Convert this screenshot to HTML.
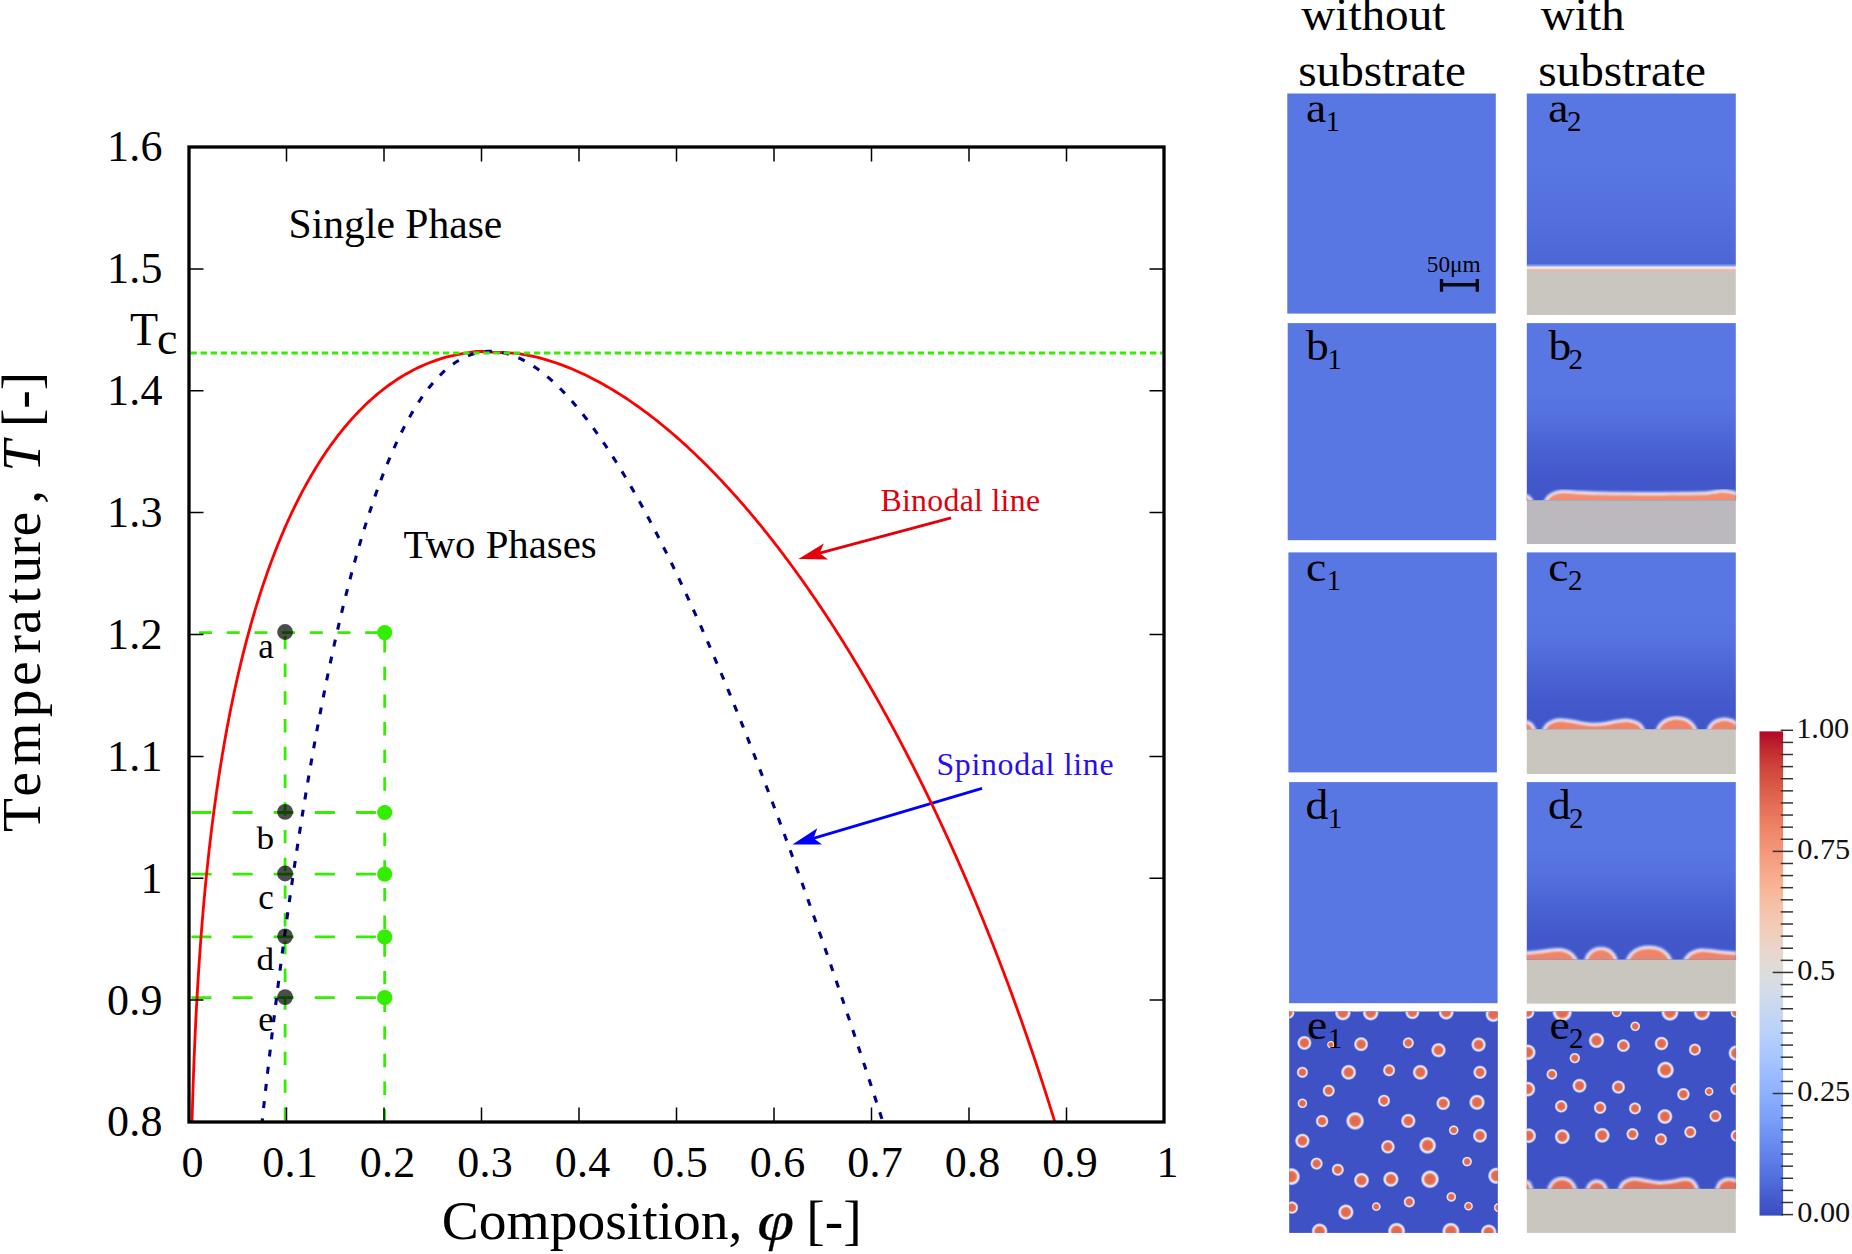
<!DOCTYPE html>
<html lang="en"><head><meta charset="utf-8"><title>Phase diagram</title>
<style>html,body{margin:0;padding:0;background:#fff}body{width:1852px;height:1254px;overflow:hidden}svg{display:block}</style>
</head><body>
<svg width="1852" height="1254" viewBox="0 0 1852 1254" font-family='"Liberation Serif", "DejaVu Serif", serif'>
<rect x="0" y="0" width="1852" height="1254" fill="#ffffff"/>
<defs><linearGradient id="cbar" x1="0" y1="0" x2="0" y2="1"><stop offset="0.0000" stop-color="#b40426"/><stop offset="0.0250" stop-color="#bd1f2d"/><stop offset="0.0500" stop-color="#c53334"/><stop offset="0.0750" stop-color="#cf453c"/><stop offset="0.1000" stop-color="#d65244"/><stop offset="0.1250" stop-color="#dd5f4b"/><stop offset="0.1500" stop-color="#e36c55"/><stop offset="0.1750" stop-color="#e9785d"/><stop offset="0.2000" stop-color="#ee8468"/><stop offset="0.2250" stop-color="#f18f71"/><stop offset="0.2500" stop-color="#f4987a"/><stop offset="0.2750" stop-color="#f6a385"/><stop offset="0.3000" stop-color="#f7ac8e"/><stop offset="0.3250" stop-color="#f7b599"/><stop offset="0.3500" stop-color="#f6bda2"/><stop offset="0.3750" stop-color="#f5c4ac"/><stop offset="0.4000" stop-color="#f2cbb7"/><stop offset="0.4250" stop-color="#eed0c0"/><stop offset="0.4500" stop-color="#e9d5cb"/><stop offset="0.4750" stop-color="#e3d9d3"/><stop offset="0.5000" stop-color="#dddcdc"/><stop offset="0.5250" stop-color="#d6dce4"/><stop offset="0.5500" stop-color="#cfdaea"/><stop offset="0.5750" stop-color="#c7d7f0"/><stop offset="0.6000" stop-color="#c0d4f5"/><stop offset="0.6250" stop-color="#b9d0f9"/><stop offset="0.6500" stop-color="#afcafc"/><stop offset="0.6750" stop-color="#a7c5fe"/><stop offset="0.7000" stop-color="#9ebeff"/><stop offset="0.7250" stop-color="#96b7ff"/><stop offset="0.7500" stop-color="#8db0fe"/><stop offset="0.7750" stop-color="#84a7fc"/><stop offset="0.8000" stop-color="#7b9ff9"/><stop offset="0.8250" stop-color="#7295f4"/><stop offset="0.8500" stop-color="#6a8bef"/><stop offset="0.8750" stop-color="#6282ea"/><stop offset="0.9000" stop-color="#5977e3"/><stop offset="0.9250" stop-color="#516ddb"/><stop offset="0.9500" stop-color="#4961d2"/><stop offset="0.9750" stop-color="#4257c9"/><stop offset="1.0000" stop-color="#3b4cc0"/></linearGradient><radialGradient id="drop" cx="0.5" cy="0.5" r="0.5"><stop offset="0" stop-color="#e16751"/><stop offset="0.44" stop-color="#e36c55"/><stop offset="0.58" stop-color="#f39577"/><stop offset="0.69" stop-color="#f7e4d8"/><stop offset="0.77" stop-color="#dde2f4"/><stop offset="0.86" stop-color="#94b6ff"/><stop offset="0.95" stop-color="#4c66d6"/><stop offset="1" stop-color="#3e51c5"/></radialGradient><linearGradient id="gA" x1="0" y1="0" x2="0" y2="1"><stop offset="0" stop-color="#5977e3"/><stop offset="0.4" stop-color="#5977e3"/><stop offset="0.7" stop-color="#5470de"/><stop offset="1" stop-color="#4c66d6"/></linearGradient><linearGradient id="gA2" x1="0" y1="0" x2="0" y2="1"><stop offset="0" stop-color="#4c66d6"/><stop offset="0.22" stop-color="#90b2fe"/><stop offset="0.42" stop-color="#ecebf2"/><stop offset="0.58" stop-color="#f4e4dc"/><stop offset="0.72" stop-color="#f6bba4"/><stop offset="1" stop-color="#f5b39b"/></linearGradient><linearGradient id="gB" x1="0" y1="0" x2="0" y2="1"><stop offset="0" stop-color="#5977e3"/><stop offset="0.36" stop-color="#5977e3"/><stop offset="0.5" stop-color="#5572df"/><stop offset="0.65" stop-color="#4c66d6"/><stop offset="0.8" stop-color="#455cce"/><stop offset="0.9" stop-color="#4257c9"/><stop offset="1" stop-color="#4055c8"/></linearGradient><linearGradient id="film" x1="0" y1="0" x2="0" y2="1"><stop offset="0" stop-color="#f7ac8e"/><stop offset="0.5" stop-color="#f39577"/><stop offset="1" stop-color="#ee8468"/></linearGradient><filter id="soft" x="-5%" y="-20%" width="110%" height="140%"><feGaussianBlur stdDeviation="1.1"/></filter></defs>
<path d="M951.1,517.9 L817.72,553.71" stroke="#e2000a" stroke-width="2.8" fill="none"/>
<path d="M798.40,558.90 L823.75,543.40 L819.65,553.20 L828.10,559.62 Z" fill="#e2000a"/>
<text x="880.5" y="510.8" font-size="31.8" fill="#e0000a" textLength="159.5" lengthAdjust="spacing">Binodal line</text>
<path d="M982,788.3 L811.58,838.82" stroke="#0000ff" stroke-width="2.8" fill="none"/>
<path d="M792.40,844.50 L817.34,828.35 L813.49,838.25 L822.11,844.45 Z" fill="#0000ff"/>
<text x="936.5" y="775.4" font-size="31.8" fill="#2a0cf0" textLength="177" lengthAdjust="spacing">Spinodal line</text>
<g stroke="#33ee00" stroke-width="2.8" fill="none">
<path d="M199,632.6 H384.7" stroke-dasharray="13 14.7"/>
<path d="M191.5,812.5 H384.7" stroke-dasharray="20 21.1"/>
<path d="M191.5,874.1 H384.7" stroke-dasharray="20 21.1"/>
<path d="M191.5,936.9 H384.7" stroke-dasharray="20 21.1"/>
<path d="M191.5,997.7 H384.7" stroke-dasharray="20 21.1"/>
<path d="M285.1,632.6 V1120.5" stroke-dasharray="13.4 14.32" stroke-dashoffset="-3.3"/>
<path d="M384.7,632.6 V1120.5" stroke-dasharray="13.4 14.25" stroke-dashoffset="-6.5"/>
</g>
<path d="M192.02,1122.00 L192.07,1120.07 L192.12,1118.14 L192.17,1116.21 L192.23,1114.27 L192.28,1112.34 L192.34,1110.41 L192.40,1108.48 L192.45,1106.55 L192.51,1104.62 L192.57,1102.69 L192.63,1100.76 L192.69,1098.82 L192.75,1096.89 L192.81,1094.96 L192.87,1093.03 L192.94,1091.10 L193.00,1089.17 L193.06,1087.24 L193.13,1085.31 L193.19,1083.37 L193.26,1081.44 L193.33,1079.51 L193.40,1077.58 L193.47,1075.65 L193.54,1073.72 L193.61,1071.79 L193.68,1069.86 L193.75,1067.92 L193.83,1065.99 L193.90,1064.06 L193.98,1062.13 L194.05,1060.20 L194.13,1058.27 L194.21,1056.34 L194.29,1054.41 L194.37,1052.47 L194.45,1050.54 L194.53,1048.61 L194.61,1046.68 L194.69,1044.75 L194.78,1042.82 L194.86,1040.89 L194.95,1038.95 L195.04,1037.02 L195.12,1035.09 L195.21,1033.16 L195.30,1031.23 L195.39,1029.30 L195.49,1027.37 L195.58,1025.44 L195.67,1023.50 L195.77,1021.57 L195.86,1019.64 L195.96,1017.71 L196.06,1015.78 L196.16,1013.85 L196.26,1011.92 L196.36,1009.99 L196.46,1008.05 L196.56,1006.12 L196.67,1004.19 L196.77,1002.26 L196.88,1000.33 L196.99,998.40 L197.10,996.47 L197.21,994.54 L197.32,992.60 L197.43,990.67 L197.54,988.74 L197.66,986.81 L197.77,984.88 L197.89,982.95 L198.01,981.02 L198.13,979.09 L198.25,977.15 L198.37,975.22 L198.49,973.29 L198.61,971.36 L198.74,969.43 L198.86,967.50 L198.99,965.57 L199.12,963.63 L199.25,961.70 L199.38,959.77 L199.51,957.84 L199.65,955.91 L199.78,953.98 L199.92,952.05 L200.05,950.12 L200.19,948.18 L200.33,946.25 L200.47,944.32 L200.62,942.39 L200.76,940.46 L200.91,938.53 L201.05,936.60 L201.20,934.67 L201.35,932.73 L201.50,930.80 L201.65,928.87 L201.81,926.94 L201.96,925.01 L202.12,923.08 L202.27,921.15 L202.43,919.22 L202.59,917.28 L202.76,915.35 L202.92,913.42 L203.09,911.49 L203.25,909.56 L203.42,907.63 L203.59,905.70 L203.76,903.76 L203.93,901.83 L204.11,899.90 L204.28,897.97 L204.46,896.04 L204.64,894.11 L204.82,892.18 L205.00,890.25 L205.18,888.31 L205.37,886.38 L205.55,884.45 L205.74,882.52 L205.93,880.59 L206.12,878.66 L206.31,876.73 L206.51,874.80 L206.71,872.86 L206.90,870.93 L207.10,869.00 L207.30,867.07 L207.51,865.14 L207.71,863.21 L207.92,861.28 L208.13,859.35 L208.34,857.41 L208.55,855.48 L208.76,853.55 L208.98,851.62 L209.19,849.69 L209.41,847.76 L209.63,845.83 L209.86,843.90 L210.08,841.96 L210.31,840.03 L210.53,838.10 L210.76,836.17 L211.00,834.24 L211.23,832.31 L211.46,830.38 L211.70,828.44 L211.94,826.51 L212.18,824.58 L212.43,822.65 L212.67,820.72 L212.92,818.79 L213.17,816.86 L213.42,814.93 L213.67,812.99 L213.93,811.06 L214.19,809.13 L214.45,807.20 L214.71,805.27 L214.97,803.34 L215.24,801.41 L215.50,799.48 L215.77,797.54 L216.05,795.61 L216.32,793.68 L216.60,791.75 L216.88,789.82 L217.16,787.89 L217.44,785.96 L217.73,784.03 L218.01,782.09 L218.30,780.16 L218.60,778.23 L218.89,776.30 L219.19,774.37 L219.49,772.44 L219.79,770.51 L220.09,768.58 L220.40,766.64 L220.71,764.71 L221.02,762.78 L221.33,760.85 L221.65,758.92 L221.97,756.99 L222.29,755.06 L222.61,753.12 L222.94,751.19 L223.26,749.26 L223.60,747.33 L223.93,745.40 L224.27,743.47 L224.60,741.54 L224.95,739.61 L225.29,737.67 L225.64,735.74 L225.99,733.81 L226.34,731.88 L226.69,729.95 L227.05,728.02 L227.41,726.09 L227.77,724.16 L228.14,722.22 L228.51,720.29 L228.88,718.36 L229.26,716.43 L229.63,714.50 L230.01,712.57 L230.40,710.64 L230.78,708.71 L231.17,706.77 L231.57,704.84 L231.96,702.91 L232.36,700.98 L232.76,699.05 L233.17,697.12 L233.57,695.19 L233.98,693.26 L234.40,691.32 L234.82,689.39 L235.24,687.46 L235.66,685.53 L236.09,683.60 L236.52,681.67 L236.95,679.74 L237.39,677.80 L237.83,675.87 L238.27,673.94 L238.72,672.01 L239.17,670.08 L239.63,668.15 L240.09,666.22 L240.55,664.29 L241.01,662.35 L241.48,660.42 L241.95,658.49 L242.43,656.56 L242.91,654.63 L243.40,652.70 L243.88,650.77 L244.38,648.84 L244.87,646.90 L245.37,644.97 L245.87,643.04 L246.38,641.11 L246.89,639.18 L247.41,637.25 L247.93,635.32 L248.45,633.39 L248.98,631.45 L249.51,629.52 L250.05,627.59 L250.59,625.66 L251.13,623.73 L251.68,621.80 L252.24,619.87 L252.80,617.93 L253.36,616.00 L253.93,614.07 L254.50,612.14 L255.08,610.21 L255.66,608.28 L256.25,606.35 L256.84,604.42 L257.43,602.48 L258.04,600.55 L258.64,598.62 L259.25,596.69 L259.87,594.76 L260.49,592.83 L261.12,590.90 L261.75,588.97 L262.39,587.03 L263.03,585.10 L263.68,583.17 L264.33,581.24 L264.99,579.31 L265.66,577.38 L266.33,575.45 L267.01,573.52 L267.69,571.58 L268.38,569.65 L269.07,567.72 L269.77,565.79 L270.48,563.86 L271.19,561.93 L271.91,560.00 L272.64,558.07 L273.37,556.13 L274.11,554.20 L274.85,552.27 L275.61,550.34 L276.37,548.41 L277.13,546.48 L277.91,544.55 L278.69,542.61 L279.48,540.68 L280.27,538.75 L281.07,536.82 L281.88,534.89 L282.70,532.96 L283.53,531.03 L284.36,529.10 L285.20,527.16 L286.05,525.23 L286.91,523.30 L287.78,521.37 L288.65,519.44 L289.54,517.51 L290.43,515.58 L291.33,513.65 L292.24,511.71 L293.17,509.78 L294.10,507.85 L295.04,505.92 L295.99,503.99 L296.94,502.06 L297.91,500.13 L298.90,498.20 L299.89,496.26 L300.89,494.33 L301.90,492.40 L302.92,490.47 L303.96,488.54 L305.01,486.61 L306.07,484.68 L307.14,482.75 L308.22,480.81 L309.32,478.88 L310.43,476.95 L311.55,475.02 L312.68,473.09 L313.83,471.16 L315.00,469.23 L316.18,467.29 L317.37,465.36 L318.58,463.43 L319.80,461.50 L321.04,459.57 L322.30,457.64 L323.57,455.71 L324.87,453.78 L326.17,451.84 L327.50,449.91 L328.85,447.98 L330.21,446.05 L331.60,444.12 L333.00,442.19 L334.43,440.26 L335.88,438.33 L337.35,436.39 L338.84,434.46 L340.36,432.53 L341.91,430.60 L343.48,428.67 L345.07,426.74 L346.70,424.81 L348.35,422.88 L350.03,420.94 L351.74,419.01 L353.49,417.08 L355.27,415.15 L357.09,413.22 L358.94,411.29 L360.83,409.36 L362.76,407.43 L364.74,405.49 L366.76,403.56 L368.83,401.63 L370.95,399.70 L373.12,397.77 L375.34,395.84 L377.63,393.91 L379.98,391.97 L382.41,390.04 L384.90,388.11 L387.48,386.18 L390.14,384.25 L392.89,382.32 L395.75,380.39 L398.72,378.46 L401.82,376.52 L405.05,374.59 L408.45,372.66 L412.02,370.73 L415.80,368.80 L419.82,366.87 L424.13,364.94 L428.79,363.01 L433.89,361.07 L439.57,359.14 L446.06,357.21 L453.81,355.28 L463.94,353.35 L476.30,351.42 L490.29,351.30 L476.30,351.42 L517.44,353.35 L528.31,355.28 L536.80,357.21 L544.03,359.14 L550.45,361.07 L556.29,363.01 L561.69,364.94 L566.74,366.87 L571.50,368.80 L576.02,370.73 L580.33,372.66 L584.46,374.59 L588.44,376.52 L592.27,378.46 L595.98,380.39 L599.58,382.32 L603.07,384.25 L606.47,386.18 L609.78,388.11 L613.01,390.04 L616.17,391.97 L619.26,393.91 L622.29,395.84 L625.25,397.77 L628.16,399.70 L631.01,401.63 L633.82,403.56 L636.57,405.49 L639.28,407.43 L641.95,409.36 L644.58,411.29 L647.16,413.22 L649.71,415.15 L652.23,417.08 L654.71,419.01 L657.16,420.94 L659.57,422.88 L661.96,424.81 L664.32,426.74 L666.64,428.67 L668.95,430.60 L671.22,432.53 L673.47,434.46 L675.70,436.39 L677.90,438.33 L680.08,440.26 L682.24,442.19 L684.38,444.12 L686.49,446.05 L688.59,447.98 L690.66,449.91 L692.72,451.84 L694.76,453.78 L696.78,455.71 L698.78,457.64 L700.77,459.57 L702.74,461.50 L704.69,463.43 L706.63,465.36 L708.55,467.29 L710.45,469.23 L712.35,471.16 L714.22,473.09 L716.09,475.02 L717.93,476.95 L719.77,478.88 L721.59,480.81 L723.40,482.75 L725.20,484.68 L726.98,486.61 L728.75,488.54 L730.51,490.47 L732.26,492.40 L734.00,494.33 L735.73,496.26 L737.44,498.20 L739.14,500.13 L740.84,502.06 L742.52,503.99 L744.19,505.92 L745.85,507.85 L747.51,509.78 L749.15,511.71 L750.78,513.65 L752.40,515.58 L754.02,517.51 L755.62,519.44 L757.22,521.37 L758.81,523.30 L760.38,525.23 L761.95,527.16 L763.51,529.10 L765.07,531.03 L766.61,532.96 L768.15,534.89 L769.68,536.82 L771.20,538.75 L772.71,540.68 L774.21,542.61 L775.71,544.55 L777.20,546.48 L778.68,548.41 L780.16,550.34 L781.63,552.27 L783.09,554.20 L784.54,556.13 L785.99,558.07 L787.43,560.00 L788.86,561.93 L790.29,563.86 L791.71,565.79 L793.12,567.72 L794.53,569.65 L795.93,571.58 L797.33,573.52 L798.72,575.45 L800.10,577.38 L801.47,579.31 L802.84,581.24 L804.21,583.17 L805.57,585.10 L806.92,587.03 L808.27,588.97 L809.61,590.90 L810.95,592.83 L812.28,594.76 L813.60,596.69 L814.92,598.62 L816.23,600.55 L817.54,602.48 L818.84,604.42 L820.14,606.35 L821.44,608.28 L822.72,610.21 L824.01,612.14 L825.28,614.07 L826.56,616.00 L827.82,617.93 L829.09,619.87 L830.34,621.80 L831.60,623.73 L832.85,625.66 L834.09,627.59 L835.33,629.52 L836.56,631.45 L837.79,633.39 L839.02,635.32 L840.24,637.25 L841.45,639.18 L842.67,641.11 L843.87,643.04 L845.08,644.97 L846.27,646.90 L847.47,648.84 L848.66,650.77 L849.85,652.70 L851.03,654.63 L852.20,656.56 L853.38,658.49 L854.55,660.42 L855.71,662.35 L856.87,664.29 L858.03,666.22 L859.18,668.15 L860.33,670.08 L861.48,672.01 L862.62,673.94 L863.76,675.87 L864.89,677.80 L866.02,679.74 L867.15,681.67 L868.27,683.60 L869.39,685.53 L870.50,687.46 L871.61,689.39 L872.72,691.32 L873.82,693.26 L874.93,695.19 L876.02,697.12 L877.12,699.05 L878.21,700.98 L879.29,702.91 L880.37,704.84 L881.45,706.77 L882.53,708.71 L883.60,710.64 L884.67,712.57 L885.74,714.50 L886.80,716.43 L887.86,718.36 L888.91,720.29 L889.97,722.22 L891.01,724.16 L892.06,726.09 L893.10,728.02 L894.14,729.95 L895.18,731.88 L896.21,733.81 L897.24,735.74 L898.27,737.67 L899.29,739.61 L900.31,741.54 L901.33,743.47 L902.34,745.40 L903.36,747.33 L904.36,749.26 L905.37,751.19 L906.37,753.12 L907.37,755.06 L908.37,756.99 L909.36,758.92 L910.35,760.85 L911.34,762.78 L912.32,764.71 L913.31,766.64 L914.28,768.58 L915.26,770.51 L916.23,772.44 L917.20,774.37 L918.17,776.30 L919.14,778.23 L920.10,780.16 L921.06,782.09 L922.01,784.03 L922.97,785.96 L923.92,787.89 L924.87,789.82 L925.81,791.75 L926.75,793.68 L927.69,795.61 L928.63,797.54 L929.57,799.48 L930.50,801.41 L931.43,803.34 L932.35,805.27 L933.28,807.20 L934.20,809.13 L935.12,811.06 L936.03,812.99 L936.95,814.93 L937.86,816.86 L938.77,818.79 L939.67,820.72 L940.58,822.65 L941.48,824.58 L942.38,826.51 L943.27,828.44 L944.17,830.38 L945.06,832.31 L945.95,834.24 L946.83,836.17 L947.72,838.10 L948.60,840.03 L949.48,841.96 L950.35,843.90 L951.23,845.83 L952.10,847.76 L952.97,849.69 L953.84,851.62 L954.70,853.55 L955.56,855.48 L956.42,857.41 L957.28,859.35 L958.14,861.28 L958.99,863.21 L959.84,865.14 L960.69,867.07 L961.53,869.00 L962.38,870.93 L963.22,872.86 L964.06,874.80 L964.90,876.73 L965.73,878.66 L966.56,880.59 L967.39,882.52 L968.22,884.45 L969.05,886.38 L969.87,888.31 L970.69,890.25 L971.51,892.18 L972.33,894.11 L973.14,896.04 L973.95,897.97 L974.77,899.90 L975.57,901.83 L976.38,903.76 L977.18,905.70 L977.98,907.63 L978.78,909.56 L979.58,911.49 L980.38,913.42 L981.17,915.35 L981.96,917.28 L982.75,919.22 L983.54,921.15 L984.32,923.08 L985.10,925.01 L985.89,926.94 L986.66,928.87 L987.44,930.80 L988.21,932.73 L988.99,934.67 L989.76,936.60 L990.53,938.53 L991.29,940.46 L992.06,942.39 L992.82,944.32 L993.58,946.25 L994.34,948.18 L995.09,950.12 L995.85,952.05 L996.60,953.98 L997.35,955.91 L998.10,957.84 L998.84,959.77 L999.59,961.70 L1000.33,963.63 L1001.07,965.57 L1001.81,967.50 L1002.54,969.43 L1003.28,971.36 L1004.01,973.29 L1004.74,975.22 L1005.47,977.15 L1006.20,979.09 L1006.92,981.02 L1007.64,982.95 L1008.36,984.88 L1009.08,986.81 L1009.80,988.74 L1010.51,990.67 L1011.23,992.60 L1011.94,994.54 L1012.65,996.47 L1013.35,998.40 L1014.06,1000.33 L1014.76,1002.26 L1015.47,1004.19 L1016.17,1006.12 L1016.86,1008.05 L1017.56,1009.99 L1018.25,1011.92 L1018.95,1013.85 L1019.64,1015.78 L1020.33,1017.71 L1021.01,1019.64 L1021.70,1021.57 L1022.38,1023.50 L1023.06,1025.44 L1023.74,1027.37 L1024.42,1029.30 L1025.09,1031.23 L1025.77,1033.16 L1026.44,1035.09 L1027.11,1037.02 L1027.78,1038.95 L1028.45,1040.89 L1029.11,1042.82 L1029.77,1044.75 L1030.44,1046.68 L1031.09,1048.61 L1031.75,1050.54 L1032.41,1052.47 L1033.06,1054.41 L1033.71,1056.34 L1034.37,1058.27 L1035.01,1060.20 L1035.66,1062.13 L1036.31,1064.06 L1036.95,1065.99 L1037.59,1067.92 L1038.23,1069.86 L1038.87,1071.79 L1039.51,1073.72 L1040.14,1075.65 L1040.77,1077.58 L1041.41,1079.51 L1042.03,1081.44 L1042.66,1083.37 L1043.29,1085.31 L1043.91,1087.24 L1044.54,1089.17 L1045.16,1091.10 L1045.77,1093.03 L1046.39,1094.96 L1047.01,1096.89 L1047.62,1098.82 L1048.23,1100.76 L1048.84,1102.69 L1049.45,1104.62 L1050.06,1106.55 L1050.67,1108.48 L1051.27,1110.41 L1051.87,1112.34 L1052.47,1114.27 L1053.07,1116.21 L1053.67,1118.14 L1054.26,1120.07 L1054.85,1122.00" fill="none" stroke="#ff0000" stroke-width="2.8" stroke-linejoin="round"/>
<path d="M262.03,1122.31 L263.27,1110.94 L264.52,1099.71 L265.76,1088.61 L267.00,1077.64 L268.25,1066.80 L269.49,1056.09 L270.74,1045.51 L271.98,1035.05 L273.23,1024.71 L274.47,1014.50 L275.71,1004.40 L276.96,994.43 L278.20,984.57 L279.45,974.84 L280.69,965.21 L281.94,955.70 L283.18,946.31 L284.42,937.02 L285.67,927.85 L286.91,918.78 L288.16,909.83 L289.40,900.98 L290.65,892.23 L291.89,883.60 L293.13,875.06 L294.38,866.63 L295.62,858.29 L296.87,850.06 L298.11,841.93 L299.35,833.90 L300.60,825.96 L301.84,818.12 L303.09,810.37 L304.33,802.72 L305.58,795.16 L306.82,787.70 L308.06,780.32 L309.31,773.03 L310.55,765.84 L311.80,758.73 L313.04,751.71 L314.29,744.78 L315.53,737.93 L316.77,731.17 L318.02,724.49 L319.26,717.90 L320.51,711.38 L321.75,704.95 L323.00,698.60 L324.24,692.33 L325.48,686.14 L326.73,680.03 L327.97,673.99 L329.22,668.04 L330.46,662.15 L331.71,656.35 L332.95,650.62 L334.19,644.96 L335.44,639.37 L336.68,633.86 L337.93,628.42 L339.17,623.05 L340.42,617.75 L341.66,612.53 L342.90,607.37 L344.15,602.28 L345.39,597.25 L346.64,592.30 L347.88,587.41 L349.12,582.59 L350.37,577.83 L351.61,573.14 L352.86,568.51 L354.10,563.95 L355.35,559.44 L356.59,555.01 L357.83,550.63 L359.08,546.31 L360.32,542.06 L361.57,537.86 L362.81,533.73 L364.06,529.65 L365.30,525.64 L366.54,521.68 L367.79,517.78 L369.03,513.93 L370.28,510.15 L371.52,506.42 L372.77,502.74 L374.01,499.12 L375.25,495.56 L376.50,492.05 L377.74,488.59 L378.99,485.18 L380.23,481.83 L381.48,478.53 L382.72,475.29 L383.96,472.09 L385.21,468.95 L386.45,465.85 L387.70,462.81 L388.94,459.82 L390.19,456.87 L391.43,453.98 L392.67,451.13 L393.92,448.33 L395.16,445.58 L396.41,442.88 L397.65,440.22 L398.89,437.61 L400.14,435.05 L401.38,432.53 L402.63,430.06 L403.87,427.63 L405.12,425.25 L406.36,422.91 L407.60,420.61 L408.85,418.36 L410.09,416.15 L411.34,413.99 L412.58,411.87 L413.83,409.79 L415.07,407.75 L416.31,405.75 L417.56,403.80 L418.80,401.88 L420.05,400.01 L421.29,398.18 L422.54,396.38 L423.78,394.63 L425.02,392.92 L426.27,391.24 L427.51,389.60 L428.76,388.01 L430.00,386.45 L431.25,384.92 L432.49,383.44 L433.73,381.99 L434.98,380.58 L436.22,379.21 L437.47,377.87 L438.71,376.57 L439.96,375.30 L441.20,374.07 L442.44,372.88 L443.69,371.72 L444.93,370.60 L446.18,369.51 L447.42,368.45 L448.66,367.43 L449.91,366.44 L451.15,365.49 L452.40,364.57 L453.64,363.68 L454.89,362.83 L456.13,362.00 L457.37,361.21 L458.62,360.46 L459.86,359.73 L461.11,359.04 L462.35,358.37 L463.60,357.74 L464.84,357.14 L466.08,356.57 L467.33,356.03 L468.57,355.52 L469.82,355.04 L471.06,354.59 L472.31,354.17 L473.55,353.78 L474.79,353.42 L476.04,353.09 L477.28,352.79 L478.53,352.51 L479.77,352.27 L481.02,352.05 L482.26,351.86 L483.50,351.70 L484.75,351.56 L485.99,351.46 L487.24,351.38 L488.48,351.32 L489.72,351.30 L490.97,351.30 L492.21,351.33 L493.46,351.38 L494.70,351.46 L495.95,351.57 L497.19,351.70 L498.43,351.86 L499.68,352.04 L500.92,352.25 L502.17,352.48 L503.41,352.74 L504.66,353.02 L505.90,353.33 L507.14,353.67 L508.39,354.02 L509.63,354.40 L510.88,354.81 L512.12,355.24 L513.37,355.69 L514.61,356.16 L515.85,356.66 L517.10,357.19 L518.34,357.73 L519.59,358.30 L520.83,358.89 L522.08,359.51 L523.32,360.14 L524.56,360.80 L525.81,361.48 L527.05,362.18 L528.30,362.91 L529.54,363.65 L530.79,364.42 L532.03,365.21 L533.27,366.02 L534.52,366.86 L535.76,367.71 L537.01,368.58 L538.25,369.48 L539.49,370.39 L540.74,371.33 L541.98,372.29 L543.23,373.26 L544.47,374.26 L545.72,375.28 L546.96,376.31 L548.20,377.37 L549.45,378.45 L550.69,379.54 L551.94,380.66 L553.18,381.79 L554.43,382.95 L555.67,384.12 L556.91,385.31 L558.16,386.52 L559.40,387.75 L560.65,389.00 L561.89,390.27 L563.14,391.55 L564.38,392.85 L565.62,394.18 L566.87,395.52 L568.11,396.87 L569.36,398.25 L570.60,399.64 L571.85,401.05 L573.09,402.48 L574.33,403.93 L575.58,405.39 L576.82,406.87 L578.07,408.37 L579.31,409.88 L580.56,411.41 L581.80,412.96 L583.04,414.52 L584.29,416.11 L585.53,417.70 L586.78,419.32 L588.02,420.95 L589.26,422.59 L590.51,424.26 L591.75,425.94 L593.00,427.63 L594.24,429.34 L595.49,431.07 L596.73,432.81 L597.97,434.57 L599.22,436.34 L600.46,438.13 L601.71,439.94 L602.95,441.76 L604.20,443.59 L605.44,445.44 L606.68,447.30 L607.93,449.18 L609.17,451.08 L610.42,452.99 L611.66,454.91 L612.91,456.85 L614.15,458.80 L615.39,460.77 L616.64,462.75 L617.88,464.75 L619.13,466.76 L620.37,468.78 L621.62,470.82 L622.86,472.87 L624.10,474.94 L625.35,477.01 L626.59,479.11 L627.84,481.22 L629.08,483.34 L630.33,485.47 L631.57,487.62 L632.81,489.78 L634.06,491.95 L635.30,494.14 L636.55,496.34 L637.79,498.55 L639.03,500.78 L640.28,503.02 L641.52,505.27 L642.77,507.53 L644.01,509.81 L645.26,512.10 L646.50,514.41 L647.74,516.72 L648.99,519.05 L650.23,521.39 L651.48,523.74 L652.72,526.11 L653.97,528.48 L655.21,530.87 L656.45,533.27 L657.70,535.68 L658.94,538.11 L660.19,540.55 L661.43,542.99 L662.68,545.46 L663.92,547.93 L665.16,550.41 L666.41,552.91 L667.65,555.41 L668.90,557.93 L670.14,560.46 L671.39,563.00 L672.63,565.55 L673.87,568.12 L675.12,570.69 L676.36,573.28 L677.61,575.87 L678.85,578.48 L680.09,581.10 L681.34,583.73 L682.58,586.37 L683.83,589.02 L685.07,591.68 L686.32,594.35 L687.56,597.03 L688.80,599.73 L690.05,602.43 L691.29,605.15 L692.54,607.87 L693.78,610.61 L695.03,613.35 L696.27,616.11 L697.51,618.87 L698.76,621.65 L700.00,624.43 L701.25,627.23 L702.49,630.03 L703.74,632.85 L704.98,635.68 L706.22,638.51 L707.47,641.36 L708.71,644.21 L709.96,647.08 L711.20,649.95 L712.45,652.83 L713.69,655.73 L714.93,658.63 L716.18,661.54 L717.42,664.47 L718.67,667.40 L719.91,670.34 L721.16,673.29 L722.40,676.25 L723.64,679.21 L724.89,682.19 L726.13,685.18 L727.38,688.17 L728.62,691.18 L729.86,694.19 L731.11,697.21 L732.35,700.25 L733.60,703.29 L734.84,706.33 L736.09,709.39 L737.33,712.46 L738.57,715.53 L739.82,718.62 L741.06,721.71 L742.31,724.81 L743.55,727.92 L744.80,731.04 L746.04,734.16 L747.28,737.30 L748.53,740.44 L749.77,743.59 L751.02,746.75 L752.26,749.92 L753.51,753.10 L754.75,756.28 L755.99,759.47 L757.24,762.67 L758.48,765.88 L759.73,769.10 L760.97,772.32 L762.22,775.56 L763.46,778.80 L764.70,782.04 L765.95,785.30 L767.19,788.56 L768.44,791.84 L769.68,795.12 L770.93,798.40 L772.17,801.70 L773.41,805.00 L774.66,808.31 L775.90,811.63 L777.15,814.95 L778.39,818.28 L779.63,821.62 L780.88,824.97 L782.12,828.33 L783.37,831.69 L784.61,835.06 L785.86,838.44 L787.10,841.82 L788.34,845.21 L789.59,848.61 L790.83,852.01 L792.08,855.43 L793.32,858.85 L794.57,862.27 L795.81,865.71 L797.05,869.15 L798.30,872.60 L799.54,876.05 L800.79,879.51 L802.03,882.98 L803.28,886.46 L804.52,889.94 L805.76,893.43 L807.01,896.93 L808.25,900.43 L809.50,903.94 L810.74,907.45 L811.99,910.98 L813.23,914.51 L814.47,918.04 L815.72,921.58 L816.96,925.13 L818.21,928.69 L819.45,932.25 L820.70,935.82 L821.94,939.39 L823.18,942.98 L824.43,946.56 L825.67,950.16 L826.92,953.76 L828.16,957.36 L829.40,960.98 L830.65,964.60 L831.89,968.22 L833.14,971.85 L834.38,975.49 L835.63,979.13 L836.87,982.78 L838.11,986.44 L839.36,990.10 L840.60,993.77 L841.85,997.44 L843.09,1001.12 L844.34,1004.81 L845.58,1008.50 L846.82,1012.20 L848.07,1015.90 L849.31,1019.61 L850.56,1023.33 L851.80,1027.05 L853.05,1030.78 L854.29,1034.51 L855.53,1038.25 L856.78,1041.99 L858.02,1045.74 L859.27,1049.50 L860.51,1053.26 L861.76,1057.03 L863.00,1060.80 L864.24,1064.58 L865.49,1068.36 L866.73,1072.15 L867.98,1075.94 L869.22,1079.75 L870.47,1083.55 L871.71,1087.36 L872.95,1091.18 L874.20,1095.00 L875.44,1098.83 L876.69,1102.66 L877.93,1106.50 L879.17,1110.34 L880.42,1114.19 L881.66,1118.04 L882.91,1121.90" fill="none" stroke="#00008b" stroke-width="3.1" stroke-dasharray="7 10.3" stroke-dashoffset="3"/>
<path d="M190.5,353 H1162.5" stroke="#33ee00" stroke-width="3" stroke-dasharray="6.3 3.8" fill="none"/>
<circle cx="384.7" cy="632.6" r="7.6" fill="#33ee00"/>
<circle cx="285.1" cy="632.0" r="7.9" fill="#000" fill-opacity="0.7"/>
<circle cx="384.7" cy="812.5" r="7.6" fill="#33ee00"/>
<circle cx="285.1" cy="811.9" r="7.9" fill="#000" fill-opacity="0.7"/>
<circle cx="384.7" cy="874.1" r="7.6" fill="#33ee00"/>
<circle cx="285.1" cy="873.5" r="7.9" fill="#000" fill-opacity="0.7"/>
<circle cx="384.7" cy="936.9" r="7.6" fill="#33ee00"/>
<circle cx="285.1" cy="936.3" r="7.9" fill="#000" fill-opacity="0.7"/>
<circle cx="384.7" cy="997.7" r="7.6" fill="#33ee00"/>
<circle cx="285.1" cy="997.1" r="7.9" fill="#000" fill-opacity="0.7"/>
<g stroke="#000" stroke-width="1.5" fill="none">
<path d="M286.50,1122.0 v-14.5 M286.50,147.0 v14.5"/>
<path d="M384.00,1122.0 v-14.5 M384.00,147.0 v14.5"/>
<path d="M481.50,1122.0 v-14.5 M481.50,147.0 v14.5"/>
<path d="M579.00,1122.0 v-14.5 M579.00,147.0 v14.5"/>
<path d="M676.50,1122.0 v-14.5 M676.50,147.0 v14.5"/>
<path d="M774.00,1122.0 v-14.5 M774.00,147.0 v14.5"/>
<path d="M871.50,1122.0 v-14.5 M871.50,147.0 v14.5"/>
<path d="M969.00,1122.0 v-14.5 M969.00,147.0 v14.5"/>
<path d="M1066.50,1122.0 v-14.5 M1066.50,147.0 v14.5"/>
<path d="M189.0,1000.12 h14.5 M1164.0,1000.12 h-14.5"/>
<path d="M189.0,878.25 h14.5 M1164.0,878.25 h-14.5"/>
<path d="M189.0,756.38 h14.5 M1164.0,756.38 h-14.5"/>
<path d="M189.0,634.50 h14.5 M1164.0,634.50 h-14.5"/>
<path d="M189.0,512.62 h14.5 M1164.0,512.62 h-14.5"/>
<path d="M189.0,390.75 h14.5 M1164.0,390.75 h-14.5"/>
<path d="M189.0,268.88 h14.5 M1164.0,268.88 h-14.5"/>
</g>
<rect x="189.0" y="147.0" width="975.0" height="975.0" fill="none" stroke="#000" stroke-width="3.3"/>
<g font-size="44" fill="#000" letter-spacing="0.25">
<text x="192.5" y="1177.3" text-anchor="middle">0</text>
<text x="290.0" y="1177.3" text-anchor="middle">0.1</text>
<text x="387.5" y="1177.3" text-anchor="middle">0.2</text>
<text x="485.0" y="1177.3" text-anchor="middle">0.3</text>
<text x="582.5" y="1177.3" text-anchor="middle">0.4</text>
<text x="680.0" y="1177.3" text-anchor="middle">0.5</text>
<text x="777.5" y="1177.3" text-anchor="middle">0.6</text>
<text x="875.0" y="1177.3" text-anchor="middle">0.7</text>
<text x="972.5" y="1177.3" text-anchor="middle">0.8</text>
<text x="1070.0" y="1177.3" text-anchor="middle">0.9</text>
<text x="1167.5" y="1177.3" text-anchor="middle">1</text>
<text x="162.7" y="1136.4" text-anchor="end">0.8</text>
<text x="162.7" y="1014.5" text-anchor="end">0.9</text>
<text x="162.7" y="892.7" text-anchor="end">1</text>
<text x="162.7" y="770.8" text-anchor="end">1.1</text>
<text x="162.7" y="648.9" text-anchor="end">1.2</text>
<text x="162.7" y="527.0" text-anchor="end">1.3</text>
<text x="162.7" y="405.1" text-anchor="end">1.4</text>
<text x="162.7" y="283.3" text-anchor="end">1.5</text>
<text x="162.7" y="161.4" text-anchor="end">1.6</text>
</g>
<text x="441.7" y="1239" font-size="55.5">Composition,</text>
<text transform="translate(757.2,1239) scale(1.2,1)" font-size="55.5" font-style="italic" stroke="#000" stroke-width="0.3">φ</text>
<text x="806.2" y="1239" font-size="55.5">[-]</text>
<g transform="translate(39.5,833) rotate(-90)" font-size="55.5">
<text x="0.9 36.3 67.3 115.8 146.9 179.5 198.9 229.6 249.6 277.6 296.6 329.2" y="0">Temperature,</text>
<text x="361.6" y="0" font-style="italic">T</text>
<text x="405.9" y="0">[-]</text>
</g>
<text x="130" y="345" font-size="46">T<tspan dy="8.5" dx="2">c</tspan></text>
<text x="288.6" y="238" font-size="41.6">Single Phase</text>
<text x="403.5" y="558.3" font-size="40.8">Two Phases</text>
<g font-size="35">
<text x="258.3" y="657.5">a</text>
<text transform="translate(256.6,848.9) scale(1.1,1)" font-size="32">b</text>
<text x="258.3" y="909.1">c</text>
<text transform="translate(256.6,970) scale(1.1,1)" font-size="32">d</text>
<text x="258.3" y="1031.2">e</text>
</g>
<text x="1301.2" y="29.5" font-size="47.2">without</text>
<text x="1298.2" y="85.5" font-size="47.2">substrate</text>
<text x="1540.7" y="29.5" font-size="47.2">with</text>
<text x="1538.2" y="85.5" font-size="47.2">substrate</text>
<rect x="1287.3" y="93.5" width="208.5" height="220.1" fill="#5977e3"/>
<rect x="1287.7" y="323.1" width="208.5" height="217.1" fill="#5977e3"/>
<rect x="1288.4" y="552.4" width="208.5" height="220.0" fill="#5977e3"/>
<rect x="1289.1" y="782.1" width="208.5" height="221.1" fill="#5977e3"/>
<rect x="1526.8" y="93.5" width="209.0" height="171.1" fill="url(#gA)"/>
<rect x="1526.8" y="264.4" width="209.0" height="7" fill="url(#gA2)"/>
<rect x="1526.8" y="271" width="209.0" height="44.0" fill="#c8c6bf"/>
<rect x="1526.8" y="323.1" width="209.0" height="177.7" fill="url(#gB)"/>
<clipPath id="cpb"><rect x="1526.8" y="323.1" width="209.0" height="177.20"/></clipPath>
<g clip-path="url(#cpb)"><g filter="url(#soft)">
<path d="M1518.0,506.3 L1518.0,496.0 C1519.2,496.1 1523.2,496.4 1525.0,496.8 C1526.8,497.2 1527.6,497.9 1528.5,498.6 C1529.4,499.4 1530.2,500.9 1530.5,501.3 L1530.5,506.3 Z" fill="none" stroke="#89acfd" stroke-width="7" stroke-linejoin="round"/>
<path d="M1546.8,506.3 L1546.8,501.3 C1547.4,500.6 1548.7,498.1 1550.3,496.9 C1551.9,495.6 1554.4,494.5 1556.5,493.8 C1558.6,493.1 1559.9,492.8 1563.0,492.7 C1566.1,492.6 1568.8,493.1 1575.0,493.4 C1581.2,493.7 1587.5,494.3 1600.0,494.6 C1612.5,494.9 1633.3,495.0 1650.0,495.0 C1666.7,495.0 1689.3,494.9 1700.0,494.6 C1710.7,494.3 1710.2,493.6 1714.0,493.2 C1717.8,492.8 1720.2,492.2 1723.0,492.2 C1725.8,492.2 1728.2,492.6 1731.0,493.2 C1733.8,493.8 1738.5,495.5 1740.0,496.0 L1740.0,506.3 Z" fill="none" stroke="#89acfd" stroke-width="7" stroke-linejoin="round"/>
<path d="M1518.0,506.3 L1518.0,496.0 C1519.2,496.1 1523.2,496.4 1525.0,496.8 C1526.8,497.2 1527.6,497.9 1528.5,498.6 C1529.4,499.4 1530.2,500.9 1530.5,501.3 L1530.5,506.3 Z" fill="none" stroke="#fbefe8" stroke-width="4" stroke-linejoin="round"/>
<path d="M1546.8,506.3 L1546.8,501.3 C1547.4,500.6 1548.7,498.1 1550.3,496.9 C1551.9,495.6 1554.4,494.5 1556.5,493.8 C1558.6,493.1 1559.9,492.8 1563.0,492.7 C1566.1,492.6 1568.8,493.1 1575.0,493.4 C1581.2,493.7 1587.5,494.3 1600.0,494.6 C1612.5,494.9 1633.3,495.0 1650.0,495.0 C1666.7,495.0 1689.3,494.9 1700.0,494.6 C1710.7,494.3 1710.2,493.6 1714.0,493.2 C1717.8,492.8 1720.2,492.2 1723.0,492.2 C1725.8,492.2 1728.2,492.6 1731.0,493.2 C1733.8,493.8 1738.5,495.5 1740.0,496.0 L1740.0,506.3 Z" fill="none" stroke="#fbefe8" stroke-width="4" stroke-linejoin="round"/>
<path d="M1518.0,506.3 L1518.0,496.0 C1519.2,496.1 1523.2,496.4 1525.0,496.8 C1526.8,497.2 1527.6,497.9 1528.5,498.6 C1529.4,499.4 1530.2,500.9 1530.5,501.3 L1530.5,506.3 Z" fill="#f18d6f"/>
<path d="M1546.8,506.3 L1546.8,501.3 C1547.4,500.6 1548.7,498.1 1550.3,496.9 C1551.9,495.6 1554.4,494.5 1556.5,493.8 C1558.6,493.1 1559.9,492.8 1563.0,492.7 C1566.1,492.6 1568.8,493.1 1575.0,493.4 C1581.2,493.7 1587.5,494.3 1600.0,494.6 C1612.5,494.9 1633.3,495.0 1650.0,495.0 C1666.7,495.0 1689.3,494.9 1700.0,494.6 C1710.7,494.3 1710.2,493.6 1714.0,493.2 C1717.8,492.8 1720.2,492.2 1723.0,492.2 C1725.8,492.2 1728.2,492.6 1731.0,493.2 C1733.8,493.8 1738.5,495.5 1740.0,496.0 L1740.0,506.3 Z" fill="#f18d6f"/>
</g></g>
<rect x="1526.8" y="500.3" width="209.0" height="43.7" fill="#bbb9bd"/>
<rect x="1526.8" y="552.4" width="209.0" height="177.4" fill="url(#gB)"/>
<clipPath id="cpc"><rect x="1526.8" y="552.4" width="209.0" height="176.90"/></clipPath>
<g clip-path="url(#cpc)"><g filter="url(#soft)">
<path d="M1518.0,735.3 L1518.0,726.0 C1518.8,725.6 1521.5,724.0 1523.0,723.6 C1524.5,723.2 1525.8,723.1 1527.0,723.4 C1528.2,723.7 1529.4,724.4 1530.5,725.5 C1531.6,726.6 1532.9,729.5 1533.4,730.3 L1533.4,735.3 Z" fill="none" stroke="#89acfd" stroke-width="7" stroke-linejoin="round"/>
<path d="M1545.0,735.3 L1545.0,730.3 C1545.5,729.5 1546.7,727.0 1548.0,725.8 C1549.3,724.5 1551.2,723.5 1553.0,722.8 C1554.8,722.0 1556.2,721.4 1559.0,721.3 C1561.8,721.2 1566.2,721.8 1570.0,722.3 C1573.8,722.8 1578.2,724.0 1582.0,724.6 C1585.8,725.2 1589.2,725.6 1593.0,725.7 C1596.8,725.8 1601.2,725.5 1605.0,725.0 C1608.8,724.5 1612.5,723.4 1616.0,722.8 C1619.5,722.2 1623.1,721.4 1626.0,721.4 C1628.9,721.4 1631.3,722.1 1633.5,722.8 C1635.7,723.5 1637.5,724.4 1639.0,725.6 C1640.5,726.9 1641.7,729.5 1642.2,730.3 L1642.2,735.3 Z" fill="none" stroke="#89acfd" stroke-width="7" stroke-linejoin="round"/>
<path d="M1658.6,736.3 L1658.6,730.3 C1659.1,729.5 1660.0,726.9 1661.5,725.3 C1663.0,723.7 1665.0,721.9 1667.5,720.9 C1670.1,719.8 1673.5,719.2 1676.5,719.2 C1679.5,719.2 1682.9,719.8 1685.5,720.9 C1688.0,721.9 1690.0,723.7 1691.5,725.3 C1693.0,726.9 1693.9,729.5 1694.4,730.3 L1694.4,736.3 Z" fill="none" stroke="#89acfd" stroke-width="7" stroke-linejoin="round"/>
<path d="M1709.6,736.3 L1709.6,730.3 C1710.0,729.6 1710.7,727.3 1712.0,725.9 C1713.2,724.5 1715.0,722.9 1717.0,722.0 C1719.1,721.1 1722.0,720.5 1724.5,720.5 C1727.0,720.5 1729.9,721.1 1732.0,722.0 C1734.0,722.9 1735.8,724.5 1737.0,725.9 C1738.3,727.3 1739.0,729.6 1739.4,730.3 L1739.4,736.3 Z" fill="none" stroke="#89acfd" stroke-width="7" stroke-linejoin="round"/>
<path d="M1518.0,735.3 L1518.0,726.0 C1518.8,725.6 1521.5,724.0 1523.0,723.6 C1524.5,723.2 1525.8,723.1 1527.0,723.4 C1528.2,723.7 1529.4,724.4 1530.5,725.5 C1531.6,726.6 1532.9,729.5 1533.4,730.3 L1533.4,735.3 Z" fill="none" stroke="#fbefe8" stroke-width="4" stroke-linejoin="round"/>
<path d="M1545.0,735.3 L1545.0,730.3 C1545.5,729.5 1546.7,727.0 1548.0,725.8 C1549.3,724.5 1551.2,723.5 1553.0,722.8 C1554.8,722.0 1556.2,721.4 1559.0,721.3 C1561.8,721.2 1566.2,721.8 1570.0,722.3 C1573.8,722.8 1578.2,724.0 1582.0,724.6 C1585.8,725.2 1589.2,725.6 1593.0,725.7 C1596.8,725.8 1601.2,725.5 1605.0,725.0 C1608.8,724.5 1612.5,723.4 1616.0,722.8 C1619.5,722.2 1623.1,721.4 1626.0,721.4 C1628.9,721.4 1631.3,722.1 1633.5,722.8 C1635.7,723.5 1637.5,724.4 1639.0,725.6 C1640.5,726.9 1641.7,729.5 1642.2,730.3 L1642.2,735.3 Z" fill="none" stroke="#fbefe8" stroke-width="4" stroke-linejoin="round"/>
<path d="M1658.6,736.3 L1658.6,730.3 C1659.1,729.5 1660.0,726.9 1661.5,725.3 C1663.0,723.7 1665.0,721.9 1667.5,720.9 C1670.1,719.8 1673.5,719.2 1676.5,719.2 C1679.5,719.2 1682.9,719.8 1685.5,720.9 C1688.0,721.9 1690.0,723.7 1691.5,725.3 C1693.0,726.9 1693.9,729.5 1694.4,730.3 L1694.4,736.3 Z" fill="none" stroke="#fbefe8" stroke-width="4" stroke-linejoin="round"/>
<path d="M1709.6,736.3 L1709.6,730.3 C1710.0,729.6 1710.7,727.3 1712.0,725.9 C1713.2,724.5 1715.0,722.9 1717.0,722.0 C1719.1,721.1 1722.0,720.5 1724.5,720.5 C1727.0,720.5 1729.9,721.1 1732.0,722.0 C1734.0,722.9 1735.8,724.5 1737.0,725.9 C1738.3,727.3 1739.0,729.6 1739.4,730.3 L1739.4,736.3 Z" fill="none" stroke="#fbefe8" stroke-width="4" stroke-linejoin="round"/>
<path d="M1518.0,735.3 L1518.0,726.0 C1518.8,725.6 1521.5,724.0 1523.0,723.6 C1524.5,723.2 1525.8,723.1 1527.0,723.4 C1528.2,723.7 1529.4,724.4 1530.5,725.5 C1531.6,726.6 1532.9,729.5 1533.4,730.3 L1533.4,735.3 Z" fill="#ee8468"/>
<path d="M1545.0,735.3 L1545.0,730.3 C1545.5,729.5 1546.7,727.0 1548.0,725.8 C1549.3,724.5 1551.2,723.5 1553.0,722.8 C1554.8,722.0 1556.2,721.4 1559.0,721.3 C1561.8,721.2 1566.2,721.8 1570.0,722.3 C1573.8,722.8 1578.2,724.0 1582.0,724.6 C1585.8,725.2 1589.2,725.6 1593.0,725.7 C1596.8,725.8 1601.2,725.5 1605.0,725.0 C1608.8,724.5 1612.5,723.4 1616.0,722.8 C1619.5,722.2 1623.1,721.4 1626.0,721.4 C1628.9,721.4 1631.3,722.1 1633.5,722.8 C1635.7,723.5 1637.5,724.4 1639.0,725.6 C1640.5,726.9 1641.7,729.5 1642.2,730.3 L1642.2,735.3 Z" fill="#ee8468"/>
<path d="M1658.6,736.3 L1658.6,730.3 C1659.1,729.5 1660.0,726.9 1661.5,725.3 C1663.0,723.7 1665.0,721.9 1667.5,720.9 C1670.1,719.8 1673.5,719.2 1676.5,719.2 C1679.5,719.2 1682.9,719.8 1685.5,720.9 C1688.0,721.9 1690.0,723.7 1691.5,725.3 C1693.0,726.9 1693.9,729.5 1694.4,730.3 L1694.4,736.3 Z" fill="#ee8468"/>
<path d="M1709.6,736.3 L1709.6,730.3 C1710.0,729.6 1710.7,727.3 1712.0,725.9 C1713.2,724.5 1715.0,722.9 1717.0,722.0 C1719.1,721.1 1722.0,720.5 1724.5,720.5 C1727.0,720.5 1729.9,721.1 1732.0,722.0 C1734.0,722.9 1735.8,724.5 1737.0,725.9 C1738.3,727.3 1739.0,729.6 1739.4,730.3 L1739.4,736.3 Z" fill="#ee8468"/>
</g></g>
<rect x="1526.8" y="729.3" width="209.0" height="44.7" fill="#c8c6bf"/>
<rect x="1526.8" y="782.1" width="209.0" height="178.0" fill="url(#gB)"/>
<clipPath id="cpd"><rect x="1526.8" y="782.1" width="209.0" height="177.50"/></clipPath>
<g clip-path="url(#cpd)"><g filter="url(#soft)">
<path d="M1518.0,965.6 L1518.0,954.6 C1519.5,954.5 1523.3,954.6 1527.0,954.3 C1530.7,954.0 1535.8,953.5 1540.0,953.0 C1544.2,952.5 1548.7,951.7 1552.0,951.4 C1555.3,951.1 1557.6,950.8 1560.0,951.0 C1562.4,951.2 1564.6,951.8 1566.5,952.6 C1568.4,953.4 1570.1,954.5 1571.5,955.8 C1572.9,957.1 1574.4,959.8 1575.0,960.6 L1575.0,965.6 Z" fill="none" stroke="#89acfd" stroke-width="7" stroke-linejoin="round"/>
<path d="M1587.1,966.6 L1587.1,960.6 C1587.5,959.8 1588.2,957.3 1589.3,955.7 C1590.5,954.2 1592.1,952.4 1594.0,951.4 C1596.0,950.4 1598.7,949.8 1601.0,949.8 C1603.3,949.8 1606.0,950.4 1608.0,951.4 C1609.9,952.4 1611.5,954.2 1612.7,955.7 C1613.8,957.3 1614.5,959.8 1614.9,960.6 L1614.9,966.6 Z" fill="none" stroke="#89acfd" stroke-width="7" stroke-linejoin="round"/>
<path d="M1628.6,966.6 L1628.6,960.6 C1629.1,959.7 1630.2,956.9 1631.9,955.2 C1633.6,953.4 1635.9,951.4 1638.8,950.3 C1641.7,949.2 1645.6,948.5 1649.0,948.5 C1652.4,948.5 1656.3,949.2 1659.2,950.3 C1662.1,951.4 1664.4,953.4 1666.1,955.2 C1667.8,956.9 1668.9,959.7 1669.4,960.6 L1669.4,966.6 Z" fill="none" stroke="#89acfd" stroke-width="7" stroke-linejoin="round"/>
<path d="M1686.0,965.6 L1686.0,960.6 C1686.7,959.8 1688.5,957.0 1690.0,955.7 C1691.5,954.4 1693.2,953.6 1695.0,952.9 C1696.8,952.2 1698.5,951.8 1701.0,951.6 C1703.5,951.5 1706.5,951.7 1710.0,952.0 C1713.5,952.3 1717.7,953.0 1722.0,953.4 C1726.3,953.8 1732.2,954.2 1736.0,954.4 C1739.8,954.6 1743.5,954.6 1745.0,954.6 L1745.0,965.6 Z" fill="none" stroke="#89acfd" stroke-width="7" stroke-linejoin="round"/>
<path d="M1518.0,965.6 L1518.0,954.6 C1519.5,954.5 1523.3,954.6 1527.0,954.3 C1530.7,954.0 1535.8,953.5 1540.0,953.0 C1544.2,952.5 1548.7,951.7 1552.0,951.4 C1555.3,951.1 1557.6,950.8 1560.0,951.0 C1562.4,951.2 1564.6,951.8 1566.5,952.6 C1568.4,953.4 1570.1,954.5 1571.5,955.8 C1572.9,957.1 1574.4,959.8 1575.0,960.6 L1575.0,965.6 Z" fill="none" stroke="#fbefe8" stroke-width="4" stroke-linejoin="round"/>
<path d="M1587.1,966.6 L1587.1,960.6 C1587.5,959.8 1588.2,957.3 1589.3,955.7 C1590.5,954.2 1592.1,952.4 1594.0,951.4 C1596.0,950.4 1598.7,949.8 1601.0,949.8 C1603.3,949.8 1606.0,950.4 1608.0,951.4 C1609.9,952.4 1611.5,954.2 1612.7,955.7 C1613.8,957.3 1614.5,959.8 1614.9,960.6 L1614.9,966.6 Z" fill="none" stroke="#fbefe8" stroke-width="4" stroke-linejoin="round"/>
<path d="M1628.6,966.6 L1628.6,960.6 C1629.1,959.7 1630.2,956.9 1631.9,955.2 C1633.6,953.4 1635.9,951.4 1638.8,950.3 C1641.7,949.2 1645.6,948.5 1649.0,948.5 C1652.4,948.5 1656.3,949.2 1659.2,950.3 C1662.1,951.4 1664.4,953.4 1666.1,955.2 C1667.8,956.9 1668.9,959.7 1669.4,960.6 L1669.4,966.6 Z" fill="none" stroke="#fbefe8" stroke-width="4" stroke-linejoin="round"/>
<path d="M1686.0,965.6 L1686.0,960.6 C1686.7,959.8 1688.5,957.0 1690.0,955.7 C1691.5,954.4 1693.2,953.6 1695.0,952.9 C1696.8,952.2 1698.5,951.8 1701.0,951.6 C1703.5,951.5 1706.5,951.7 1710.0,952.0 C1713.5,952.3 1717.7,953.0 1722.0,953.4 C1726.3,953.8 1732.2,954.2 1736.0,954.4 C1739.8,954.6 1743.5,954.6 1745.0,954.6 L1745.0,965.6 Z" fill="none" stroke="#fbefe8" stroke-width="4" stroke-linejoin="round"/>
<path d="M1518.0,965.6 L1518.0,954.6 C1519.5,954.5 1523.3,954.6 1527.0,954.3 C1530.7,954.0 1535.8,953.5 1540.0,953.0 C1544.2,952.5 1548.7,951.7 1552.0,951.4 C1555.3,951.1 1557.6,950.8 1560.0,951.0 C1562.4,951.2 1564.6,951.8 1566.5,952.6 C1568.4,953.4 1570.1,954.5 1571.5,955.8 C1572.9,957.1 1574.4,959.8 1575.0,960.6 L1575.0,965.6 Z" fill="#ee8468"/>
<path d="M1587.1,966.6 L1587.1,960.6 C1587.5,959.8 1588.2,957.3 1589.3,955.7 C1590.5,954.2 1592.1,952.4 1594.0,951.4 C1596.0,950.4 1598.7,949.8 1601.0,949.8 C1603.3,949.8 1606.0,950.4 1608.0,951.4 C1609.9,952.4 1611.5,954.2 1612.7,955.7 C1613.8,957.3 1614.5,959.8 1614.9,960.6 L1614.9,966.6 Z" fill="#ee8468"/>
<path d="M1628.6,966.6 L1628.6,960.6 C1629.1,959.7 1630.2,956.9 1631.9,955.2 C1633.6,953.4 1635.9,951.4 1638.8,950.3 C1641.7,949.2 1645.6,948.5 1649.0,948.5 C1652.4,948.5 1656.3,949.2 1659.2,950.3 C1662.1,951.4 1664.4,953.4 1666.1,955.2 C1667.8,956.9 1668.9,959.7 1669.4,960.6 L1669.4,966.6 Z" fill="#ee8468"/>
<path d="M1686.0,965.6 L1686.0,960.6 C1686.7,959.8 1688.5,957.0 1690.0,955.7 C1691.5,954.4 1693.2,953.6 1695.0,952.9 C1696.8,952.2 1698.5,951.8 1701.0,951.6 C1703.5,951.5 1706.5,951.7 1710.0,952.0 C1713.5,952.3 1717.7,953.0 1722.0,953.4 C1726.3,953.8 1732.2,954.2 1736.0,954.4 C1739.8,954.6 1743.5,954.6 1745.0,954.6 L1745.0,965.6 Z" fill="#ee8468"/>
</g></g>
<rect x="1526.8" y="959.6" width="209.0" height="44.1" fill="#c8c6bf"/>
<rect x="1289.2" y="1011.5" width="208.6" height="221.4" fill="#3e51c5"/>
<clipPath id="cpe1"><rect x="1289.2" y="1011.5" width="208.6" height="221.4"/></clipPath>
<g clip-path="url(#cpe1)" fill="url(#drop)">
<circle cx="1288.2" cy="1012.6" r="6.9"/>
<circle cx="1342.9" cy="1012.6" r="8.6"/>
<circle cx="1370.7" cy="1012.6" r="8.6"/>
<circle cx="1412.4" cy="1012.2" r="7.7"/>
<circle cx="1446.2" cy="1012.2" r="8.2"/>
<circle cx="1493.4" cy="1014.2" r="8.6"/>
<circle cx="1304.4" cy="1042.9" r="7.7"/>
<circle cx="1330.8" cy="1044.6" r="4.1"/>
<circle cx="1361.1" cy="1044.2" r="7.7"/>
<circle cx="1408.3" cy="1042.9" r="6.2"/>
<circle cx="1438.5" cy="1050.2" r="7.9"/>
<circle cx="1478.6" cy="1044.6" r="7.9"/>
<circle cx="1302.4" cy="1072.3" r="6.2"/>
<circle cx="1348.6" cy="1072.3" r="8.2"/>
<circle cx="1389.1" cy="1070.3" r="6.7"/>
<circle cx="1420.3" cy="1072.3" r="8.2"/>
<circle cx="1480.0" cy="1072.3" r="7.3"/>
<circle cx="1328.7" cy="1090.7" r="6.7"/>
<circle cx="1302.4" cy="1103.3" r="5.4"/>
<circle cx="1384.0" cy="1100.7" r="6.7"/>
<circle cx="1443.2" cy="1103.3" r="7.5"/>
<circle cx="1477.0" cy="1102.3" r="8.4"/>
<circle cx="1322.1" cy="1121.1" r="6.9"/>
<circle cx="1355.1" cy="1120.9" r="9.7"/>
<circle cx="1408.3" cy="1120.9" r="7.9"/>
<circle cx="1453.7" cy="1130.2" r="5.4"/>
<circle cx="1480.0" cy="1135.7" r="7.7"/>
<circle cx="1302.4" cy="1140.8" r="7.9"/>
<circle cx="1387.9" cy="1146.8" r="7.5"/>
<circle cx="1427.6" cy="1145.4" r="9.2"/>
<circle cx="1316.6" cy="1163.6" r="6.7"/>
<circle cx="1337.8" cy="1169.7" r="6.7"/>
<circle cx="1467.1" cy="1161.6" r="5.4"/>
<circle cx="1291.3" cy="1176.6" r="9.4"/>
<circle cx="1361.5" cy="1180.3" r="8.2"/>
<circle cx="1390.9" cy="1179.2" r="8.4"/>
<circle cx="1430.0" cy="1179.2" r="9.7"/>
<circle cx="1496.4" cy="1175.8" r="9.0"/>
<circle cx="1451.3" cy="1196.9" r="5.4"/>
<circle cx="1409.3" cy="1201.9" r="6.2"/>
<circle cx="1376.3" cy="1206.6" r="4.9"/>
<circle cx="1468.5" cy="1206.2" r="4.9"/>
<circle cx="1291.9" cy="1207.6" r="6.9"/>
<circle cx="1345.9" cy="1212.1" r="8.4"/>
<circle cx="1498.5" cy="1207.6" r="5.2"/>
<circle cx="1319.6" cy="1231.3" r="8.6"/>
<circle cx="1396.6" cy="1231.3" r="9.4"/>
<circle cx="1450.9" cy="1231.3" r="9.4"/>
<circle cx="1488.7" cy="1232.3" r="8.6"/>
</g>
<rect x="1526.8" y="1011.5" width="209.0" height="177.8" fill="#3e51c5"/>
<clipPath id="cpe2"><rect x="1526.8" y="1011.5" width="209.0" height="177.3"/></clipPath>
<g clip-path="url(#cpe2)"><g fill="url(#drop)">
<circle cx="1527.8" cy="1012.2" r="7.3"/>
<circle cx="1562.3" cy="1011.7" r="10.7"/>
<circle cx="1616.7" cy="1012.2" r="5.6"/>
<circle cx="1670.0" cy="1012.2" r="9.4"/>
<circle cx="1702.0" cy="1012.2" r="9.0"/>
<circle cx="1735.8" cy="1012.6" r="5.8"/>
<circle cx="1635.2" cy="1026.3" r="5.4"/>
<circle cx="1596.5" cy="1040.5" r="8.4"/>
<circle cx="1623.4" cy="1045.6" r="7.1"/>
<circle cx="1661.5" cy="1043.5" r="7.5"/>
<circle cx="1694.9" cy="1049.6" r="6.7"/>
<circle cx="1527.8" cy="1052.3" r="8.6"/>
<circle cx="1736.4" cy="1053.1" r="8.6"/>
<circle cx="1574.8" cy="1058.1" r="5.8"/>
<circle cx="1665.5" cy="1069.9" r="9.2"/>
<circle cx="1551.9" cy="1074.3" r="6.0"/>
<circle cx="1579.5" cy="1085.7" r="7.7"/>
<circle cx="1618.4" cy="1087.1" r="7.3"/>
<circle cx="1527.8" cy="1089.1" r="8.2"/>
<circle cx="1736.4" cy="1089.1" r="6.9"/>
<circle cx="1683.4" cy="1094.2" r="6.9"/>
<circle cx="1709.1" cy="1091.5" r="4.9"/>
<circle cx="1561.2" cy="1106.3" r="6.9"/>
<circle cx="1600.1" cy="1107.7" r="6.9"/>
<circle cx="1635.0" cy="1108.4" r="6.7"/>
<circle cx="1664.9" cy="1116.5" r="8.2"/>
<circle cx="1715.4" cy="1116.1" r="6.7"/>
<circle cx="1690.3" cy="1132.1" r="6.7"/>
<circle cx="1528.6" cy="1135.7" r="8.2"/>
<circle cx="1562.3" cy="1136.7" r="8.2"/>
<circle cx="1602.2" cy="1135.3" r="8.2"/>
<circle cx="1632.5" cy="1134.1" r="6.7"/>
<circle cx="1660.9" cy="1139.3" r="6.7"/>
<circle cx="1736.8" cy="1135.7" r="6.9"/>
</g>
<g filter="url(#soft)">
<path d="M1522.2,1194.8 L1522.2,1183.3 C1523.0,1183.3 1526.1,1183.0 1527.2,1183.3 C1528.3,1183.6 1528.3,1184.1 1528.8,1185.3 C1529.4,1186.5 1530.2,1189.5 1530.5,1190.4 L1530.5,1194.8 Z" fill="none" stroke="#89acfd" stroke-width="7" stroke-linejoin="round"/>
<path d="M1550.1,1195.8 L1550.1,1189.8 C1550.4,1189.1 1551.0,1186.7 1552.0,1185.3 C1553.0,1183.9 1554.4,1182.2 1556.1,1181.3 C1557.8,1180.4 1560.1,1179.8 1562.2,1179.8 C1564.2,1179.8 1566.5,1180.4 1568.2,1181.3 C1569.9,1182.2 1571.3,1183.9 1572.3,1185.3 C1573.3,1186.7 1573.9,1189.1 1574.2,1189.8 L1574.2,1195.8 Z" fill="none" stroke="#89acfd" stroke-width="7" stroke-linejoin="round"/>
<path d="M1588.5,1195.8 L1588.5,1189.8 C1588.8,1189.3 1589.2,1187.5 1589.9,1186.5 C1590.6,1185.5 1591.5,1184.2 1592.7,1183.6 C1593.8,1182.9 1595.4,1182.5 1596.8,1182.5 C1598.2,1182.5 1599.7,1182.9 1600.9,1183.6 C1602.1,1184.2 1603.0,1185.5 1603.7,1186.5 C1604.4,1187.5 1604.8,1189.3 1605.0,1189.8 L1605.0,1195.8 Z" fill="none" stroke="#89acfd" stroke-width="7" stroke-linejoin="round"/>
<path d="M1620.8,1194.8 L1620.8,1189.8 C1621.2,1189.0 1622.1,1186.1 1623.4,1184.7 C1624.7,1183.3 1626.5,1182.2 1628.5,1181.5 C1630.5,1180.7 1632.4,1180.1 1635.6,1180.3 C1638.8,1180.4 1643.7,1181.7 1647.7,1182.3 C1651.8,1182.9 1655.8,1183.8 1659.9,1183.9 C1663.9,1184.0 1668.0,1183.3 1672.0,1182.7 C1676.1,1182.1 1681.1,1180.7 1684.2,1180.5 C1687.2,1180.2 1688.6,1180.6 1690.3,1181.3 C1691.9,1182.0 1692.9,1183.3 1693.9,1184.7 C1694.9,1186.1 1695.9,1189.0 1696.3,1189.8 L1696.3,1194.8 Z" fill="none" stroke="#89acfd" stroke-width="7" stroke-linejoin="round"/>
<path d="M1718.0,1194.8 L1718.0,1189.8 C1718.4,1188.8 1719.5,1185.3 1720.6,1183.9 C1721.7,1182.5 1723.3,1181.8 1724.7,1181.3 C1726.0,1180.7 1727.0,1180.4 1728.7,1180.5 C1730.4,1180.5 1732.8,1181.0 1734.8,1181.5 C1736.8,1181.9 1739.9,1183.0 1740.9,1183.3 L1740.9,1194.8 Z" fill="none" stroke="#89acfd" stroke-width="7" stroke-linejoin="round"/>
<path d="M1522.2,1194.8 L1522.2,1183.3 C1523.0,1183.3 1526.1,1183.0 1527.2,1183.3 C1528.3,1183.6 1528.3,1184.1 1528.8,1185.3 C1529.4,1186.5 1530.2,1189.5 1530.5,1190.4 L1530.5,1194.8 Z" fill="none" stroke="#fbefe8" stroke-width="4" stroke-linejoin="round"/>
<path d="M1550.1,1195.8 L1550.1,1189.8 C1550.4,1189.1 1551.0,1186.7 1552.0,1185.3 C1553.0,1183.9 1554.4,1182.2 1556.1,1181.3 C1557.8,1180.4 1560.1,1179.8 1562.2,1179.8 C1564.2,1179.8 1566.5,1180.4 1568.2,1181.3 C1569.9,1182.2 1571.3,1183.9 1572.3,1185.3 C1573.3,1186.7 1573.9,1189.1 1574.2,1189.8 L1574.2,1195.8 Z" fill="none" stroke="#fbefe8" stroke-width="4" stroke-linejoin="round"/>
<path d="M1588.5,1195.8 L1588.5,1189.8 C1588.8,1189.3 1589.2,1187.5 1589.9,1186.5 C1590.6,1185.5 1591.5,1184.2 1592.7,1183.6 C1593.8,1182.9 1595.4,1182.5 1596.8,1182.5 C1598.2,1182.5 1599.7,1182.9 1600.9,1183.6 C1602.1,1184.2 1603.0,1185.5 1603.7,1186.5 C1604.4,1187.5 1604.8,1189.3 1605.0,1189.8 L1605.0,1195.8 Z" fill="none" stroke="#fbefe8" stroke-width="4" stroke-linejoin="round"/>
<path d="M1620.8,1194.8 L1620.8,1189.8 C1621.2,1189.0 1622.1,1186.1 1623.4,1184.7 C1624.7,1183.3 1626.5,1182.2 1628.5,1181.5 C1630.5,1180.7 1632.4,1180.1 1635.6,1180.3 C1638.8,1180.4 1643.7,1181.7 1647.7,1182.3 C1651.8,1182.9 1655.8,1183.8 1659.9,1183.9 C1663.9,1184.0 1668.0,1183.3 1672.0,1182.7 C1676.1,1182.1 1681.1,1180.7 1684.2,1180.5 C1687.2,1180.2 1688.6,1180.6 1690.3,1181.3 C1691.9,1182.0 1692.9,1183.3 1693.9,1184.7 C1694.9,1186.1 1695.9,1189.0 1696.3,1189.8 L1696.3,1194.8 Z" fill="none" stroke="#fbefe8" stroke-width="4" stroke-linejoin="round"/>
<path d="M1718.0,1194.8 L1718.0,1189.8 C1718.4,1188.8 1719.5,1185.3 1720.6,1183.9 C1721.7,1182.5 1723.3,1181.8 1724.7,1181.3 C1726.0,1180.7 1727.0,1180.4 1728.7,1180.5 C1730.4,1180.5 1732.8,1181.0 1734.8,1181.5 C1736.8,1181.9 1739.9,1183.0 1740.9,1183.3 L1740.9,1194.8 Z" fill="none" stroke="#fbefe8" stroke-width="4" stroke-linejoin="round"/>
<path d="M1522.2,1194.8 L1522.2,1183.3 C1523.0,1183.3 1526.1,1183.0 1527.2,1183.3 C1528.3,1183.6 1528.3,1184.1 1528.8,1185.3 C1529.4,1186.5 1530.2,1189.5 1530.5,1190.4 L1530.5,1194.8 Z" fill="#e57058"/>
<path d="M1550.1,1195.8 L1550.1,1189.8 C1550.4,1189.1 1551.0,1186.7 1552.0,1185.3 C1553.0,1183.9 1554.4,1182.2 1556.1,1181.3 C1557.8,1180.4 1560.1,1179.8 1562.2,1179.8 C1564.2,1179.8 1566.5,1180.4 1568.2,1181.3 C1569.9,1182.2 1571.3,1183.9 1572.3,1185.3 C1573.3,1186.7 1573.9,1189.1 1574.2,1189.8 L1574.2,1195.8 Z" fill="#e57058"/>
<path d="M1588.5,1195.8 L1588.5,1189.8 C1588.8,1189.3 1589.2,1187.5 1589.9,1186.5 C1590.6,1185.5 1591.5,1184.2 1592.7,1183.6 C1593.8,1182.9 1595.4,1182.5 1596.8,1182.5 C1598.2,1182.5 1599.7,1182.9 1600.9,1183.6 C1602.1,1184.2 1603.0,1185.5 1603.7,1186.5 C1604.4,1187.5 1604.8,1189.3 1605.0,1189.8 L1605.0,1195.8 Z" fill="#e57058"/>
<path d="M1620.8,1194.8 L1620.8,1189.8 C1621.2,1189.0 1622.1,1186.1 1623.4,1184.7 C1624.7,1183.3 1626.5,1182.2 1628.5,1181.5 C1630.5,1180.7 1632.4,1180.1 1635.6,1180.3 C1638.8,1180.4 1643.7,1181.7 1647.7,1182.3 C1651.8,1182.9 1655.8,1183.8 1659.9,1183.9 C1663.9,1184.0 1668.0,1183.3 1672.0,1182.7 C1676.1,1182.1 1681.1,1180.7 1684.2,1180.5 C1687.2,1180.2 1688.6,1180.6 1690.3,1181.3 C1691.9,1182.0 1692.9,1183.3 1693.9,1184.7 C1694.9,1186.1 1695.9,1189.0 1696.3,1189.8 L1696.3,1194.8 Z" fill="#e57058"/>
<path d="M1718.0,1194.8 L1718.0,1189.8 C1718.4,1188.8 1719.5,1185.3 1720.6,1183.9 C1721.7,1182.5 1723.3,1181.8 1724.7,1181.3 C1726.0,1180.7 1727.0,1180.4 1728.7,1180.5 C1730.4,1180.5 1732.8,1181.0 1734.8,1181.5 C1736.8,1181.9 1739.9,1183.0 1740.9,1183.3 L1740.9,1194.8 Z" fill="#e57058"/>
</g></g>
<rect x="1526.8" y="1188.8" width="209.0" height="44.1" fill="#c8c6bf"/>
<g fill="#000">
<text transform="translate(1305.9,122) scale(1.07,1)" font-size="42.5">a</text>
<text x="1325.6" y="131.2" font-size="29">1</text>
<text transform="translate(1548.2,122) scale(1.07,1)" font-size="42.5">a</text>
<text x="1566.9" y="131.2" font-size="29">2</text>
<text transform="translate(1306.1,360.2) scale(1.07,1)" font-size="42.5">b</text>
<text x="1327.3" y="369.4" font-size="29">1</text>
<text transform="translate(1548.4,360.2) scale(1.07,1)" font-size="42.5">b</text>
<text x="1568.6" y="369.4" font-size="29">2</text>
<text transform="translate(1305.9,580.5) scale(1.07,1)" font-size="42.5">c</text>
<text x="1326.6" y="589.7" font-size="29">1</text>
<text transform="translate(1548.2,580.5) scale(1.07,1)" font-size="42.5">c</text>
<text x="1567.9" y="589.7" font-size="29">2</text>
<text transform="translate(1305.6,819) scale(1.07,1)" font-size="42.5">d</text>
<text x="1327.8" y="828.2" font-size="29">1</text>
<text transform="translate(1547.9,819) scale(1.07,1)" font-size="42.5">d</text>
<text x="1569.1" y="828.2" font-size="29">2</text>
<text transform="translate(1307.1,1039.1) scale(1.07,1)" font-size="42.5">e</text>
<text x="1327.8" y="1048.3" font-size="29">1</text>
<text transform="translate(1549.4,1039.1) scale(1.07,1)" font-size="42.5">e</text>
<text x="1569.1" y="1048.3" font-size="29">2</text>
</g>
<text x="1426.8" y="272" font-size="23.3">50μm</text>
<path d="M1441.5,278.9 V291.8 M1477.3,278.9 V291.8" stroke="#0a0a14" stroke-width="3.3" fill="none"/>
<path d="M1441.5,284.7 H1477.3" stroke="#0a0a14" stroke-width="3.6" fill="none"/>
<rect x="1759.5" y="731.4" width="23.6" height="484.2" fill="url(#cbar)"/>
<g stroke="#333" stroke-width="1.5" fill="none">
<path d="M1780.7,730.30 H1793"/>
<path d="M1780.7,742.41 H1793"/>
<path d="M1780.7,754.51 H1793"/>
<path d="M1780.7,766.62 H1793"/>
<path d="M1780.7,778.73 H1793"/>
<path d="M1780.7,790.84 H1793"/>
<path d="M1780.7,802.94 H1793"/>
<path d="M1780.7,815.05 H1793"/>
<path d="M1780.7,827.16 H1793"/>
<path d="M1780.7,839.27 H1793"/>
<path d="M1772.7,851.38 H1793"/>
<path d="M1780.7,863.48 H1793"/>
<path d="M1780.7,875.59 H1793"/>
<path d="M1780.7,887.70 H1793"/>
<path d="M1780.7,899.80 H1793"/>
<path d="M1780.7,911.91 H1793"/>
<path d="M1780.7,924.02 H1793"/>
<path d="M1780.7,936.13 H1793"/>
<path d="M1780.7,948.23 H1793"/>
<path d="M1780.7,960.34 H1793"/>
<path d="M1772.7,972.45 H1793"/>
<path d="M1780.7,984.56 H1793"/>
<path d="M1780.7,996.66 H1793"/>
<path d="M1780.7,1008.77 H1793"/>
<path d="M1780.7,1020.88 H1793"/>
<path d="M1780.7,1032.99 H1793"/>
<path d="M1780.7,1045.09 H1793"/>
<path d="M1780.7,1057.20 H1793"/>
<path d="M1780.7,1069.31 H1793"/>
<path d="M1780.7,1081.42 H1793"/>
<path d="M1772.7,1093.52 H1793"/>
<path d="M1780.7,1105.63 H1793"/>
<path d="M1780.7,1117.74 H1793"/>
<path d="M1780.7,1129.85 H1793"/>
<path d="M1780.7,1141.95 H1793"/>
<path d="M1780.7,1154.06 H1793"/>
<path d="M1780.7,1166.17 H1793"/>
<path d="M1780.7,1178.28 H1793"/>
<path d="M1780.7,1190.38 H1793"/>
<path d="M1780.7,1202.49 H1793"/>
<path d="M1780.7,1214.60 H1793"/>
</g>
<g font-size="30.3" fill="#111">
<text x="1796.2" y="737.9">1.00</text>
<text x="1797.2" y="859.0">0.75</text>
<text x="1797.2" y="980.0">0.5</text>
<text x="1797.2" y="1101.1">0.25</text>
<text x="1797.2" y="1222.2">0.00</text>
</g>
</svg>
</body></html>
